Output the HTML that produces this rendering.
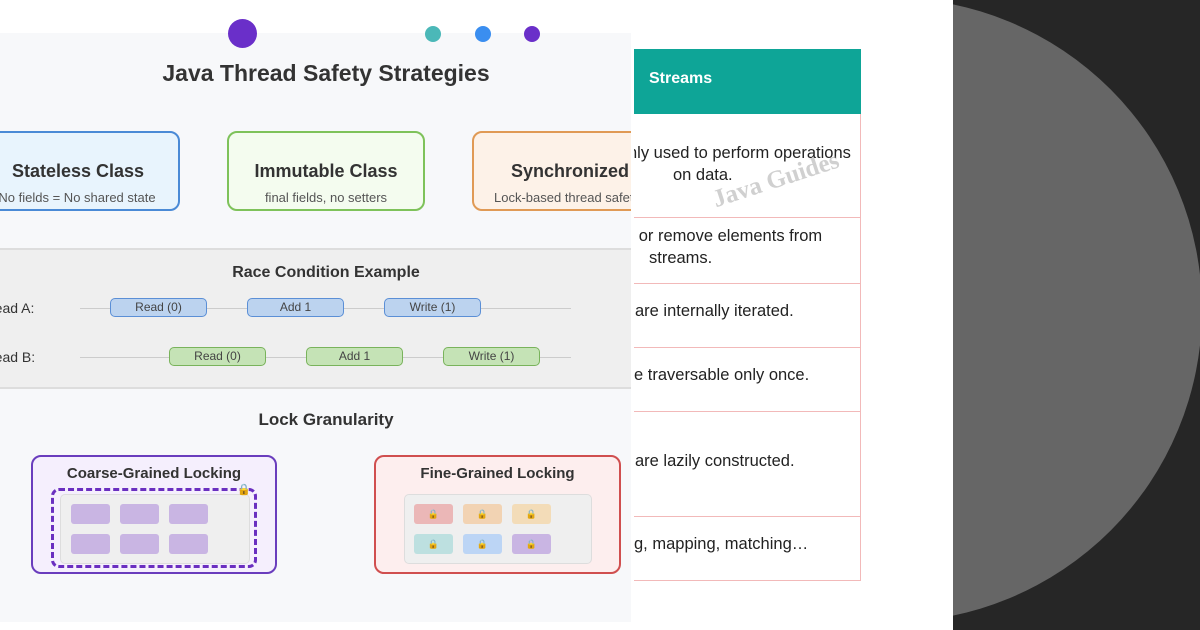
<!DOCTYPE html>
<html><head><style>
html,body{margin:0;width:1200px;height:630px;overflow:hidden;}
body{background:#fff;position:relative;font-family:"Liberation Sans",Arial,sans-serif;}
.a{position:absolute;}
.box{position:absolute;border:2px solid;border-radius:10px;box-sizing:border-box;text-align:center;}
.box b{display:block;font-size:18px;color:#333;margin-top:28px;}
.box span{display:block;font-size:13px;color:#555;margin-top:8px;}
.pill{position:absolute;height:19px;width:97px;border:1px solid;border-radius:5px;box-sizing:border-box;font-size:12px;color:#444;text-align:center;line-height:17px;}
.pa{background:#bcd3ef;border-color:#5b8fd6;}
.pb{background:#c5e3b6;border-color:#79b35b;}
.sq{position:absolute;width:39px;height:20px;border-radius:3px;font-size:9px;text-align:center;line-height:20px;}
.row{position:absolute;left:634px;width:227px;border-bottom:1px solid #f2b9b9;font-size:16.5px;color:#222;overflow:hidden;}
</style></head><body>
<div class="a" style="left:0;top:33px;width:631px;height:589px;background:#f7f8fa;"></div>
<div class="a" style="left:228px;top:19px;width:29px;height:29px;border-radius:50%;background:#6a2fc9;"></div>
<div class="a" style="left:425px;top:26px;width:16px;height:16px;border-radius:50%;background:#4bb8b8;"></div>
<div class="a" style="left:475px;top:26px;width:16px;height:16px;border-radius:50%;background:#3a8ef0;"></div>
<div class="a" style="left:524px;top:26px;width:16px;height:16px;border-radius:50%;background:#6a2fc9;"></div>
<div class="a" style="left:0;top:60px;width:652px;text-align:center;font-size:23px;font-weight:bold;color:#333;">Java Thread Safety Strategies</div>
<div class="box" style="left:-20px;top:131px;width:200px;height:80px;border-color:#4a8ad6;background:#e8f4fd;"><b style="margin-left:-4px">Stateless Class</b><span style="margin-left:-6px">No fields = No shared state</span></div>
<div class="box" style="left:227px;top:131px;width:198px;height:80px;border-color:#7ec25a;background:#f4fcef;"><b>Immutable Class</b><span>final fields, no setters</span></div>
<div class="box" style="left:472px;top:131px;width:200px;height:80px;border-color:#e09a55;background:#fdf2e8;overflow:hidden"><b style="margin-left:-4px">Synchronized</b><span style="white-space:nowrap;margin-left:-10px">Lock-based thread safety</span></div>
<div class="a" style="left:0;top:248px;width:631px;height:137px;background:#efefef;border-top:2px solid #ddd;border-bottom:2px solid #ddd;"></div>
<div class="a" style="left:0;top:264px;width:652px;text-align:center;font-size:16px;font-weight:bold;color:#333;">Race Condition Example</div>
<div class="a" style="left:-10px;top:300px;font-size:14px;color:#333;">read A:</div>
<div class="a" style="left:-10px;top:349px;font-size:14px;color:#333;">read B:</div>
<div class="a" style="left:80px;top:308px;width:491px;height:1px;background:#ccc;"></div>
<div class="a" style="left:80px;top:357px;width:491px;height:1px;background:#ccc;"></div>
<div class="pill pa" style="left:110px;top:298px">Read (0)</div>
<div class="pill pa" style="left:247px;top:298px">Add 1</div>
<div class="pill pa" style="left:384px;top:298px">Write (1)</div>
<div class="pill pb" style="left:169px;top:347px">Read (0)</div>
<div class="pill pb" style="left:306px;top:347px">Add 1</div>
<div class="pill pb" style="left:443px;top:347px">Write (1)</div>
<div class="a" style="left:0;top:410px;width:652px;text-align:center;font-size:17px;font-weight:bold;color:#333;">Lock Granularity</div>
<div class="box" style="left:31px;top:455px;width:246px;height:119px;border-color:#6a3dbd;background:#f5effd;"></div>
<div class="a" style="left:31px;top:465px;width:246px;text-align:center;font-size:15px;font-weight:bold;color:#333;">Coarse-Grained Locking</div>
<div class="a" style="left:60px;top:494px;width:188px;height:68px;background:#efefef;border:1px solid #ddd;border-radius:5px;"></div>
<div class="a" style="left:51px;top:488px;width:206px;height:80px;border:3px dashed #6a2fc0;border-radius:8px;box-sizing:border-box;"></div>
<div class="a" style="left:237px;top:483px;font-size:11px;">🔒</div>
<div class="sq" style="left:71px;top:504px;background:#c9b5e3"></div>
<div class="sq" style="left:120px;top:504px;background:#c9b5e3"></div>
<div class="sq" style="left:169px;top:504px;background:#c9b5e3"></div>
<div class="sq" style="left:71px;top:534px;background:#c9b5e3"></div>
<div class="sq" style="left:120px;top:534px;background:#c9b5e3"></div>
<div class="sq" style="left:169px;top:534px;background:#c9b5e3"></div>
<div class="box" style="left:374px;top:455px;width:247px;height:119px;border-color:#d04f4f;background:#fdeeee;"></div>
<div class="a" style="left:374px;top:465px;width:247px;text-align:center;font-size:15px;font-weight:bold;color:#333;">Fine-Grained Locking</div>
<div class="a" style="left:404px;top:494px;width:186px;height:68px;background:#efefef;border:1px solid #ddd;border-radius:5px;"></div>
<div class="sq" style="left:414px;top:504px;background:#ebb7b7">🔒</div>
<div class="sq" style="left:463px;top:504px;background:#f2d3b3">🔒</div>
<div class="sq" style="left:512px;top:504px;background:#f3dcb8">🔒</div>
<div class="sq" style="left:414px;top:534px;background:#bde0e0">🔒</div>
<div class="sq" style="left:463px;top:534px;background:#bcd5f5">🔒</div>
<div class="sq" style="left:512px;top:534px;background:#c9b5e3">🔒</div>
<div class="a" style="left:631px;top:0;width:322px;height:630px;background:#fff;"></div>
<div class="a" style="left:634px;top:49px;width:227px;height:65px;background:#0ea597;color:#fff;font-weight:bold;font-size:16px;line-height:60px;padding-left:15px;box-sizing:border-box;">Streams</div>
<div class="a" style="left:860px;top:114px;width:1px;height:466px;background:#f2b9b9;"></div>
<div class="row" style="top:114px;height:103px;"><div style="position:absolute;left:-6px;top:28px;white-space:nowrap;line-height:22px">nly used to perform operations<br><span style="padding-left:45px">on data.</span></div></div>
<div class="row" style="top:218px;height:65px;"><div style="position:absolute;left:-9px;top:7px;white-space:nowrap;line-height:22px">d or remove elements from<br><span style="padding-left:24px">streams.</span></div></div>
<div class="row" style="top:284px;height:63px;"><div style="position:absolute;left:1px;top:18px">are internally iterated.</div></div>
<div class="row" style="top:348px;height:63px;"><div style="position:absolute;left:0;top:18px">e traversable only once.</div></div>
<div class="row" style="top:412px;height:104px;"><div style="position:absolute;left:1px;top:40px">are lazily constructed.</div></div>
<div class="row" style="top:517px;height:63px;"><div style="position:absolute;left:0;top:18px">g, mapping, matching…</div></div>
<div class="a" style="left:718px;top:186px;font-family:'Liberation Serif',serif;font-size:25px;font-weight:bold;color:rgba(150,150,150,0.45);transform:rotate(-18deg);transform-origin:left bottom;white-space:nowrap;">Java Guides</div>
<div class="a" style="left:953px;top:0;width:247px;height:630px;background:#262626;overflow:hidden;">
<div class="a" style="left:-375px;top:-2px;width:624px;height:624px;border-radius:50%;background:#666;"></div>
</div>
</body></html>
